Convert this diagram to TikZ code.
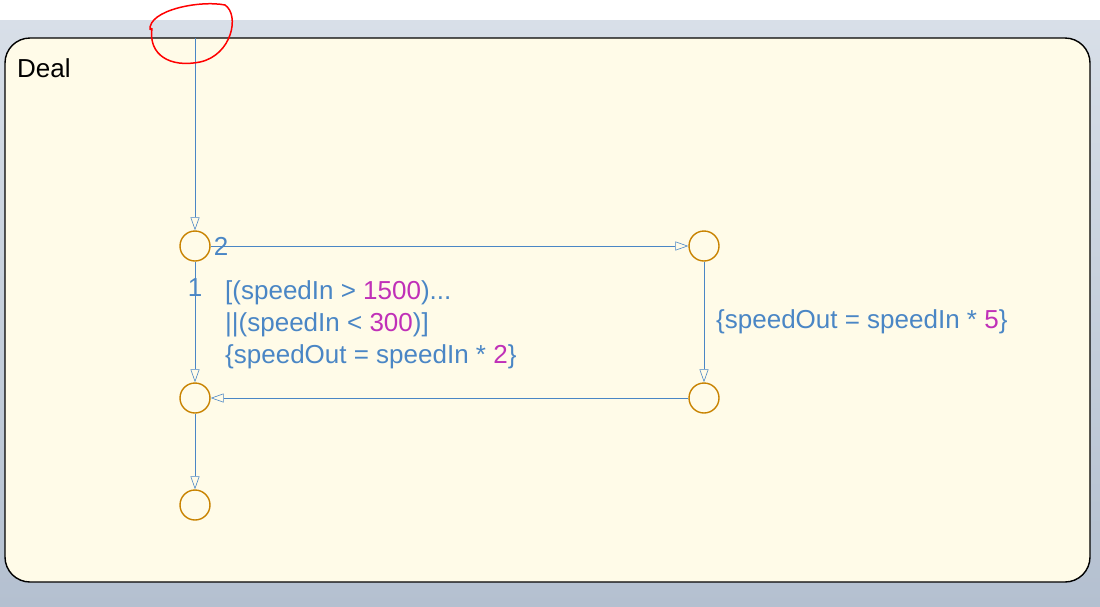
\documentclass[tikz,border=0pt]{standalone}
\usepackage{fontspec}
\setmainfont{Liberation Sans}
\usetikzlibrary{arrows.meta}
\definecolor{lb}{HTML}{4A86C5}
\definecolor{mg}{HTML}{C030B8}
\definecolor{jn}{HTML}{C88200}
\definecolor{cr}{HTML}{FFFBE8}
\definecolor{bgt}{HTML}{D8DFE8}
\definecolor{bgb}{HTML}{B4C0D0}
\tikzset{junc/.style={circle,draw=jn,line width=1.4pt,minimum size=30pt,inner sep=0pt},
 tr/.style={draw=lb,line width=0.6pt,-{Triangle[open,length=13pt,width=9pt]}},
 lbl/.style={text=lb,font=\fontsize{26}{32}\selectfont,inner sep=0pt}}
\begin{document}
\begin{tikzpicture}[x=1pt,y=-1pt]
\useasboundingbox (0,0) rectangle (1100,606);
\fill[white] (0,0) rectangle (1100,20);
\shade[top color=bgt,bottom color=bgb] (0,20) rectangle (1100,606);
\draw[black,line width=1.4pt,fill=cr,rounded corners=25pt] (5,38) rectangle (1090,582);
\node[anchor=west,font=\fontsize{26}{30}\selectfont,inner sep=0pt] (title) at (17,68) {Deal};
\node[junc] (j1) at (195,246) {};
\node[junc] (j2) at (704,246) {};
\node[junc] (j3) at (704,398) {};
\node[junc] (j4) at (195,398) {};
\node[junc] (j5) at (195,505) {};
\coordinate (start) at (195,38);
\draw[tr] (start) -- (j1);
\draw[tr] (j1) -- (j2);
\draw[tr] (j2) -- (j3);
\draw[tr] (j3) -- (j4);
\draw[tr] (j1) -- (j4);
\draw[tr] (j4) -- (j5);
\node[lbl,anchor=center] (n2) at (221,246) {2};
\node[lbl,anchor=center] (n1) at (195,288) {1};
\node[lbl,anchor=north west,align=left] (c1) at (225,280) {[(speedIn > \textcolor{mg}{1500})...\\||(speedIn < \textcolor{mg}{300})]\\\{speedOut = speedIn * \textcolor{mg}{2}\}};
\node[lbl,anchor=west] (c2) at (716,322) {\{speedOut = speedIn * \textcolor{mg}{5}\}};
\draw[red,line width=1.5pt] (150,30) .. controls (148,10) and (200,0) .. (225,5) .. controls (240,15) and (232,55) .. (200,62) .. controls (170,68) and (148,55) .. (152,28);
\end{tikzpicture}
\end{document}
